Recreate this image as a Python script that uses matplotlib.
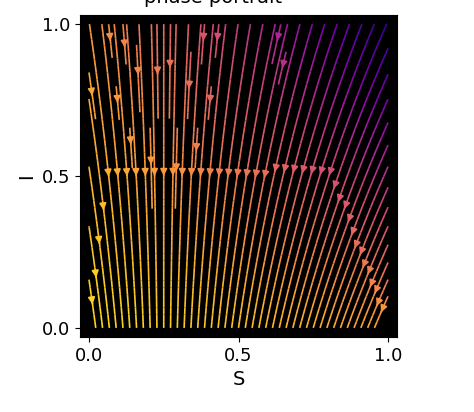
import numpy as np
import matplotlib
matplotlib.use("Agg")
import matplotlib.pyplot as plt

s_vals = np.linspace(0, 1, 40)
i_vals = np.linspace(0, 1, 40)
s_center = 0.25
s_rate = 0.6

S, I = np.meshgrid(s_vals, i_vals)
G = 1.0 + 0.5 * I + 1.5 * S * I + 0.3 * S
U = -s_rate * (S - s_center) * G
V = -G
speed = np.sqrt(U**2 + V**2)

fig = plt.figure(figsize=(4.74, 4.12), dpi=100)
ax = fig.add_axes([80/474, 1-337/412, 317/474, 322/412])
ax.set_facecolor("black")
ax.streamplot(S, I, U, V, color=speed, cmap="plasma_r", density=1.5,
              linewidth=1.2, arrowsize=1.0, norm=plt.Normalize(0.8, 3.8))
ax.set_xlim(-0.03, 1.03)
ax.set_ylim(-0.03, 1.03)
ax.set_xticks([0.0, 0.5, 1.0])
ax.set_yticks([0.0, 0.5, 1.0])
ax.tick_params(labelsize=13)
ax.set_xlabel("S", fontsize=14)
ax.set_ylabel("I", fontsize=14)
fig.text(0.45, 1.005, "phase portrait", fontsize=14, ha="center", va="center")
fig.savefig("out.png", dpi=100)
